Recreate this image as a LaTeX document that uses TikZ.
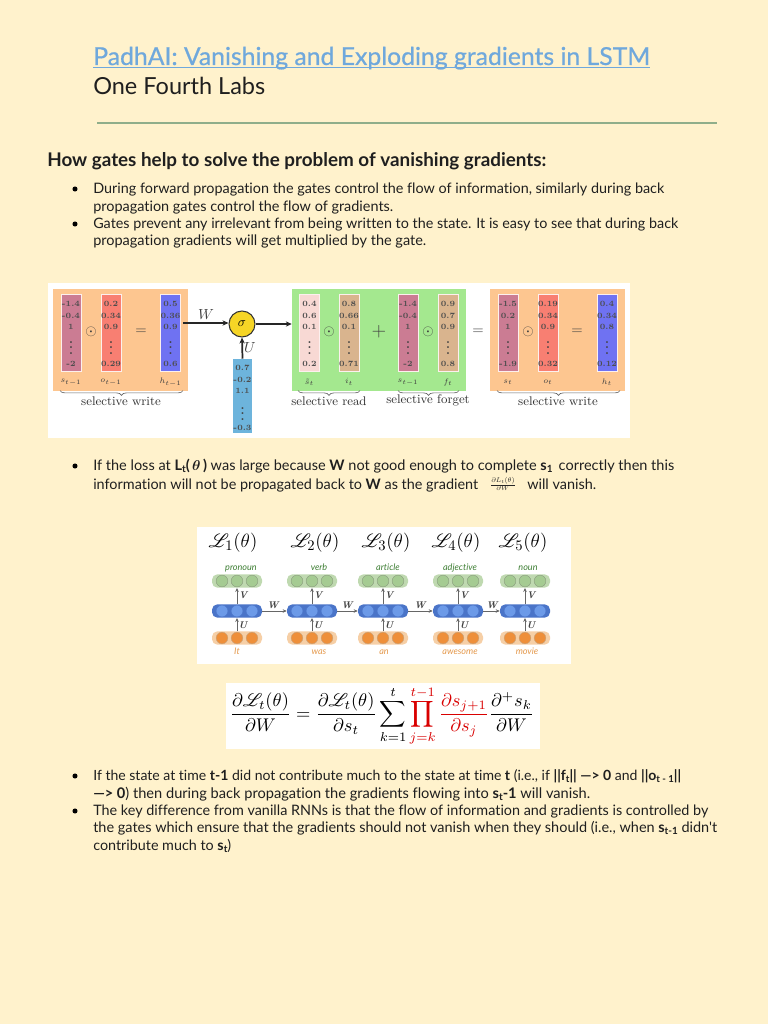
\documentclass[tikz,border=0pt]{standalone}
\usepackage{fontspec}
\usepackage{amsmath,mathrsfs,graphicx}
\usetikzlibrary{decorations.pathreplacing,arrows.meta,calc}
\newfontfamily\nun[Ligatures=NoCommon]{Lato}
\newfontfamily\nunm[Ligatures=NoCommon,FakeBold=0.6]{Lato}
\definecolor{pagebg}{HTML}{FFF2CC}
\definecolor{titleblue}{HTML}{6FA8DC}
\definecolor{rulegreen}{HTML}{8FAE8A}
\definecolor{panelorange}{HTML}{FDC690}
\definecolor{panelgreen}{HTML}{A4E88F}
\definecolor{colS}{HTML}{CB7C93}
\definecolor{colO}{HTML}{F87F72}
\definecolor{colH}{HTML}{6F72F2}
\definecolor{colP}{HTML}{F8D9D4}
\definecolor{colT}{HTML}{D9B48E}
\definecolor{colU}{HTML}{6DB4DC}
\definecolor{sigY}{HTML}{F6D526}
\definecolor{txtG}{HTML}{3F7F35}
\definecolor{txtO}{HTML}{E59A4E}
\definecolor{gFill}{HTML}{A5CB92}
\definecolor{gBack}{HTML}{BFD9B0}
\definecolor{bFill}{HTML}{6C9AE8}
\definecolor{bBack}{HTML}{4A74C8}
\definecolor{oFill}{HTML}{EE8F3A}
\definecolor{oBack}{HTML}{F6CFA6}
\newdimen\pxu \pxu=0.75pt
\newcommand\bodyfont{\nun\fontsize{10.2}{12}\selectfont}
\newcommand\lowsub[1]{\raisebox{-1.6pt}{\fontsize{7}{8}\selectfont\bfseries #1}}
\tikzset{
 x=0.75pt,y=-0.75pt,
 txtline/.style={anchor=base west,inner sep=0pt,font=\bodyfont,text=black!88},
 bulletdot/.style={circle,fill=black,inner sep=0pt,minimum size=3.8pt},
 panel/.style={rectangle,inner sep=0pt,draw=none},
 colbox/.style={rectangle,inner sep=0pt,draw=white!60!colP,line width=.5pt,minimum width=15pt,minimum height=57.75pt},
 val/.style={inner sep=0pt,font=\fontsize{6}{7}\selectfont\bfseries,text=black!70},
 valdots/.style={inner sep=0pt,font=\fontsize{9}{10}\selectfont\bfseries,text=black!75},
 opsym/.style={inner sep=0pt,font=\fontsize{11}{13}\selectfont,text=black!75},
 sublab/.style={inner sep=0pt,font=\fontsize{6.5}{8}\selectfont,text=black!75},
 caplab/.style={inner sep=0pt,font=\fontsize{9.4}{11}\selectfont,text=black!80},
 brc/.style={decorate,decoration={brace,mirror,amplitude=3.6pt},draw=black!60,line width=.5pt},
 conn/.style={-{Stealth[length=4.5pt,width=4pt]},draw=black!85,line width=1pt},
 grp/.style={rectangle,rounded corners=4pt,inner sep=0pt,minimum width=37.5pt,minimum height=10pt},
 unitc/.style={circle,inner sep=0pt,minimum size=8.8pt,line width=.3pt},
 rnnarrow/.style={-{Stealth[length=3pt,width=2.6pt]},draw=black!60,line width=.6pt},
 lossl/.style={inner sep=0pt,font=\fontsize{15.5}{17}\selectfont},
 wlab/.style={inner sep=0pt,font=\fontsize{7.3}{8}\selectfont\bfseries\itshape,text=black!75},
 tglab/.style={inner sep=0pt,anchor=base,font=\nun\fontsize{6.8}{8}\selectfont\itshape,text=txtG},
 tolab/.style={inner sep=0pt,anchor=base,font=\nun\fontsize{6.8}{8}\selectfont\itshape,text=txtO},
}
\newcommand\veccol[8]{%
 \node[colbox,fill=#3] (#1) at (#2,332.5) {};
 \node[val] (#1a) at (#2,304) {#4};
 \node[val] (#1b) at (#2,315.5) {#5};
 \node[val] (#1c) at (#2,327) {#6};
 \node[valdots] (#1d) at (#2,344) {$\vdots$};
 \node[val] (#1e) at (#2,364) {#7};
 \node[sublab] (#1l) at (#2,382) {$#8$};
}
\newcommand\fitline[4]{\node[txtline] (#1) at (93,#2) {\resizebox{#3\pxu}{!}{#4}};}
\begin{document}
\begin{tikzpicture}
\useasboundingbox (0,0) rectangle (768,1024);
\fill[pagebg] (0,0) rectangle (768,1024);
% header
\node[txtline,text=titleblue] (title) at (93,65) {\resizebox{557\pxu}{!}{\nunm\fontsize{16.5}{20}\selectfont PadhAI: Vanishing and Exploding gradients in LSTM}};
\coordinate (ulL) at (93,67.5); \coordinate (ulR) at (650,67.5);
\draw[titleblue,line width=.9pt] (ulL) -- (ulR);
\node[txtline] (sub) at (93,94) {\resizebox{172\pxu}{!}{\nun\fontsize{16.5}{20}\selectfont One Fourth Labs}};
\coordinate (ruleL) at (97,123); \coordinate (ruleR) at (717,123);
\draw[rulegreen,line width=1pt] (ruleL) -- (ruleR);
\node[txtline] (head) at (47,166) {\resizebox{499\pxu}{!}{\nun\fontsize{12.5}{15}\selectfont\bfseries How gates help to solve the problem of vanishing gradients:}};
% bullets
\node[bulletdot] (d1) at (75,189) {};
\fitline{l1}{193}{571}{During forward propagation the gates control the flow of information, similarly during back}
\fitline{l2}{211}{300}{propagation gates control the flow of gradients.}
\node[bulletdot] (d2) at (75,224) {};
\fitline{l3}{228}{585}{Gates prevent any irrelevant from being written to the state. It is easy to see that during back}
\fitline{l4}{245}{333}{propagation gradients will get multiplied by the gate.}
% figure 1
\fill[white] (48,283) rectangle (630,438);
\node[panel,fill=panelorange,minimum width=101pt,minimum height=76.5pt] (pa) at (120.7,340) {};
\node[panel,fill=panelgreen,minimum width=130.5pt,minimum height=76.5pt] (pb) at (379,340) {};
\node[panel,fill=panelorange,minimum width=101.25pt,minimum height=76.5pt] (pc) at (557.5,340) {};
\veccol{sa}{71}{colS}{-1.4}{-0.4}{1}{-2}{s_{t-1}}
\node[opsym] (opa) at (91,332) {$\odot$};
\veccol{oa}{111}{colO}{0.2}{0.34}{0.9}{0.29}{o_{t-1}}
\node[opsym] (eqa) at (141,332) {$=$};
\veccol{ha}{170.5}{colH}{0.5}{0.36}{0.9}{0.6}{h_{t-1}}
\node[circle,draw=black!80,fill=sigY,line width=.8pt,minimum size=19.5pt,inner sep=0pt,font=\fontsize{10}{12}\selectfont] (sigma) at (242,324) {$\sigma$};
\node[rectangle,inner sep=0pt,fill=colU,minimum width=14.5pt,minimum height=55.5pt] (ucol) at (242.5,396) {};
\node[val] (ua) at (242.5,368) {0.7};
\node[val] (ub) at (242.5,380) {-0.2};
\node[val] (uc) at (242.5,391) {1.1};
\node[valdots] (ud) at (242.5,410) {$\vdots$};
\node[val] (ue) at (242.5,428) {-0.3};
\coordinate (wstart) at (183,323);
\draw[conn] (wstart) -- (sigma.west |- wstart);
\node[inner sep=0pt,font=\fontsize{10.5}{12}\selectfont,text=black!75] (wl) at (206,315) {$W$};
\draw[conn] (sigma.east) -- (pb.west |- sigma.east);
\draw[conn,line width=1.3pt] (ucol.north) -- (sigma.south);
\node[inner sep=0pt,font=\fontsize{10.5}{12}\selectfont,text=black!75] (ul) at (250,348) {$U$};
\veccol{st}{309.5}{colP}{0.4}{0.6}{0.1}{0.2}{\tilde{s}_t}
\node[opsym] (opb) at (329,332) {$\odot$};
\veccol{it}{349}{colT}{0.8}{0.66}{0.1}{0.71}{i_t}
\node[opsym,font=\fontsize{14}{15}\selectfont] (plus) at (379,332) {$+$};
\veccol{sb}{408}{colS}{-1.4}{-0.4}{1}{-2}{s_{t-1}}
\node[opsym] (opc) at (428,332) {$\odot$};
\veccol{ft}{448}{colT}{0.9}{0.7}{0.9}{0.8}{f_t}
\node[opsym] (eqb) at (478,332) {$=$};
\veccol{sc}{508}{colS}{-1.5}{0.2}{1}{-1.9}{s_t}
\node[opsym] (opd) at (528,332) {$\odot$};
\veccol{oc}{548}{colO}{0.19}{0.34}{0.9}{0.32}{o_t}
\node[opsym] (eqc) at (577,332) {$=$};
\veccol{hc}{607}{colH}{0.4}{0.34}{0.8}{0.12}{h_t}
\coordinate (b1a) at (60,390.5); \coordinate (b1b) at (183,390.5);
\coordinate (b2a) at (298,390.5); \coordinate (b2b) at (360,390.5);
\coordinate (b3a) at (398,390.5); \coordinate (b3b) at (459,390.5);
\coordinate (b4a) at (497,390.5); \coordinate (b4b) at (620,390.5);
\draw[brc] (b1a) -- (b1b);
\draw[brc] (b2a) -- (b2b);
\draw[brc] (b3a) -- (b3b);
\draw[brc] (b4a) -- (b4b);
\node[caplab] (c1) at (121,401.5) {selective write};
\node[caplab] (c2) at (329,401) {selective read};
\node[caplab] (c3) at (428,400.5) {selective forget};
\node[caplab] (c4) at (558,401.5) {selective write};
% bullet 3
\node[bulletdot] (d3) at (75,466) {};
\fitline{l5}{470.5}{581}{If the loss at \textbf{L\lowsub{t}(\,$\boldsymbol{\theta}$\,)} was large because \textbf{W} not good enough to complete \textbf{s\lowsub{1}}\, correctly then this}
\fitline{l6}{489}{385}{information will not be propagated back to \textbf{W} as the gradient}
\node[inner sep=0pt,text=black!85] (frac) at (503,484) {\scalebox{.74}{$\frac{\partial L_t(\theta)}{\partial W}$}};
\node[txtline] (l6b) at (527,489) {\resizebox{69\pxu}{!}{will vanish.}};
% figure 2
\fill[white] (197,527) rectangle (571,664);
\foreach \n/\cx/\lx/\tx/\tw/\ox/\ow in {1/237/233/241/pronoun/237/It,2/312/315/319/verb/319/was,3/383/386/388/article/384/an,4/458/456/460/adjective/460/awesome,5/525/523/528/noun/527/movie}{
  \node[lossl] (loss\n) at (\lx,543) {$\mathscr{L}_{\n}(\theta)$};
  \node[tglab] (tg\n) at (\tx,570) {\tw};
  \node[tolab] (to\n) at (\ox,654) {\ow};
  \node[grp,fill=gBack] (gg\n) at (\cx,581) {};
  \node[grp,fill=bBack] (bg\n) at (\cx,611) {};
  \node[grp,fill=oBack] (og\n) at (\cx,638) {};
  \foreach \dx in {-15,0,15}{
    \node[unitc,fill=gFill,draw=gBack!70!black] at (\cx+\dx,581) {};
    \node[unitc,fill=bFill,draw=bBack] at (\cx+\dx,611) {};
    \node[unitc,fill=oFill,draw=oBack!80!black] at (\cx+\dx,638) {};
  }
  \draw[rnnarrow] (bg\n.north) -- (gg\n.south);
  \draw[rnnarrow] (og\n.north) -- (bg\n.south);
  \node[wlab] (vl\n) at (\cx+6,595) {V};
  \node[wlab] (ul\n) at (\cx+6,625) {U};
}
\draw[rnnarrow] (bg1.east) -- (bg2.west);
\draw[rnnarrow] (bg2.east) -- (bg3.west);
\draw[rnnarrow] (bg3.east) -- (bg4.west);
\draw[rnnarrow] (bg4.east) -- (bg5.west);
\node[wlab] (w1) at (273,605) {W};
\node[wlab] (w2) at (347,605) {W};
\node[wlab] (w3) at (420,605) {W};
\node[wlab] (w4) at (492,605) {W};
% equation
\fill[white] (226,683) rectangle (540,749);
\node[inner sep=0pt] (eq) at (382,716) {\resizebox{304\pxu}{!}{$\displaystyle\frac{\partial\mathscr{L}_t(\theta)}{\partial W}=\frac{\partial\mathscr{L}_t(\theta)}{\partial s_t}\sum_{k=1}^{t}\textcolor{red!85!black}{\prod_{j=k}^{t-1}\frac{\partial s_{j+1}}{\partial s_j}}\frac{\partial^+ s_k}{\partial W}$}};
% bullets 4,5
\node[bulletdot] (d4) at (75,776) {};
\fitline{l7}{780.5}{588}{If the state at time \textbf{t-1} did not contribute much to the state at time \textbf{t} (i.e., if \textbf{||f\lowsub{t}|| —> 0} and \textbf{||o\lowsub{t - 1}||}}
\fitline{l8}{798}{497}{\textbf{—> 0}) then during back propagation the gradients flowing into \textbf{s\lowsub{t}-1} will vanish.}
\node[bulletdot] (d5) at (75,811) {};
\fitline{l9}{815}{615}{The key difference from vanilla RNNs is that the flow of information and gradients is controlled by}
\fitline{l10}{832.5}{624}{the gates which ensure that the gradients should not vanish when they should (i.e., when \textbf{s\lowsub{t-1}} didn't}
\fitline{l11}{850}{138}{contribute much to \textbf{s\lowsub{t}})}
\end{tikzpicture}
\end{document}
